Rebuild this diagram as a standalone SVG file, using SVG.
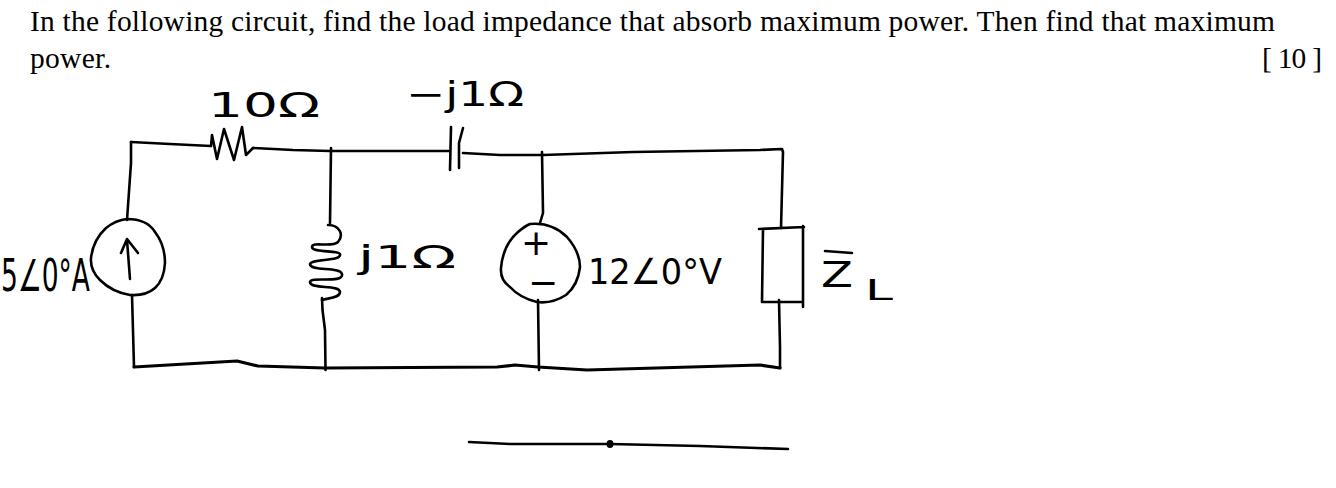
<svg xmlns="http://www.w3.org/2000/svg" width="1336" height="488" viewBox="0 0 1336 488">
<style>
.q{font-family:"Liberation Serif","Times New Roman",serif;font-size:29.5px;fill:#000}
.h{font-family:"DejaVu Sans","Liberation Sans",sans-serif;fill:#000}
.w{fill:none;stroke:#000;stroke-width:2.6;stroke-linecap:round;stroke-linejoin:round}
.b{fill:none;stroke:#000;stroke-width:3.200;stroke-linecap:round;stroke-linejoin:round}
</style>
<rect width="1336" height="488" fill="#fff"/>
<g id="question">
<text class="q" x="30" y="31" textLength="1245" lengthAdjust="spacing">In the following circuit, find the load impedance that absorb maximum power. Then find that maximum</text>
<text class="q" x="30" y="68" textLength="81" lengthAdjust="spacing">power.</text>
<text class="q" x="1262" y="68" textLength="60" lengthAdjust="spacing">[ 10 ]</text>
</g>
<g id="connectors">
<path class="w" d="M131 142 L131 163 L127 220"/>
<path class="w" d="M131 142 L170 144 L211 146"/>
<path class="w" d="M253 148 L293 150 L330 151 L449 151"/>
<path class="w" d="M331 148 L330 223"/>
<path class="w" d="M463 153 L500 155 L543 155 L633 152 L760 150 L782 149 L783 152 L781 228"/>
<path class="w" d="M542 152 L543 213 L540 223"/>
<path class="w" d="M132 295 L134 367"/>
<path class="w" d="M322 298 L322.500 310 L325 330 L325.500 370"/>
<path class="w" d="M538 300 L539 370"/>
<path class="w" d="M779 300 L780 347 L780 368"/>
<path class="b" d="M134 367 L237 361 L258 366 L325 368 L497 367 L515 365 L538 367 L587 370 L760 365 L780 368"/>
<path class="w" d="M469 442 L510 444 L610 444 L700 446 L788 449"/>
<ellipse cx="610" cy="444" rx="3.500" ry="4"/>
</g>
<g id="resistor"><path class="w" d="M211 146 L212 135 L217 159 L224 129 L234 160 L242 127 L246 155 L253 148"/>
<text class="h" x="208" y="117" font-size="34" textLength="112" lengthAdjust="spacingAndGlyphs">10Ω</text></g>
<g id="capacitor"><path class="w" d="M451 127 L450 170 M463 128 L459 143 L459 168"/>
<text class="h" x="406" y="106" font-size="34" textLength="118" lengthAdjust="spacingAndGlyphs">−j1Ω</text></g>
<g id="inductor"><path class="w" d="M328 225 C340 225 344 235 338 242 C332 248 312 241 312 247 C312 253 338 250 340 254 C342 262 312 258 310 264 C310 272 340 266 342 274 C344 284 310 276 310 282 C310 290 340 284 340 292 C340 298 328 298 322 300"/>
<text class="h" x="358" y="268" font-size="32" textLength="98" lengthAdjust="spacingAndGlyphs">j1Ω</text></g>
<g id="current-source"><path class="w" d="M127 219 Q147 219 155 232 Q165 245 165 263 Q164 280 155 288 Q146 296 130 295 Q112 292 100 280 Q90 270 91 258 Q93 240 106 228 Q116 220 127 219Z"/>
<path class="w" d="M127 240 L130 279 M121 253 L127 239 L138 253"/>
<text class="h" x="1" y="291" font-size="44" textLength="89" lengthAdjust="spacingAndGlyphs">5∠0°A</text></g>
<g id="voltage-source"><path class="w" d="M530 224 Q552 222 567 237 Q580 252 580 267 Q578 285 566 295 Q552 304 537 302 Q520 298 510 287 Q500 280 501 268 Q503 245 518 232 Q525 226 530 224Z"/>
<text class="h" x="521" y="255" font-size="36">+</text>
<text class="h" x="528" y="295" font-size="36">−</text>
<text class="h" x="588" y="284" font-size="36" textLength="134" lengthAdjust="spacingAndGlyphs">12∠0°V</text></g>
<g id="load"><path class="w" d="M759 229 L804 227 M763 229 L762 302 L802 302 M803 226 L803 307"/>
<path class="w" d="M825 251 L852 253"/>
<text class="h" x="821" y="287" font-size="36" textLength="32" lengthAdjust="spacingAndGlyphs">Z</text>
<text class="h" x="865" y="300" font-size="28" textLength="28" lengthAdjust="spacingAndGlyphs">L</text></g>
</svg>
